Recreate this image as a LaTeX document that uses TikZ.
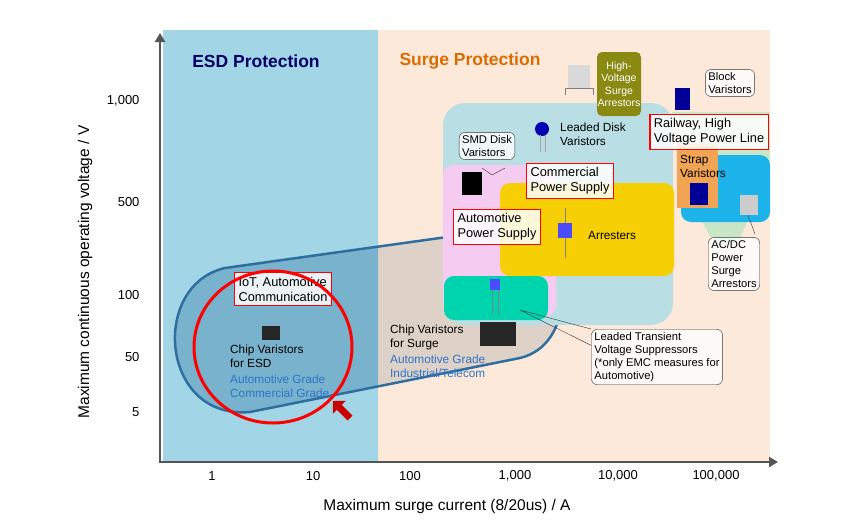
\documentclass[tikz,border=0pt]{standalone}
\usepackage{fontspec}
\setmainfont{Liberation Sans}
\usetikzlibrary{arrows.meta,shapes.geometric}
\definecolor{esd}{HTML}{A2D6E6}
\definecolor{surge}{HTML}{FDE9DA}
\definecolor{lb}{HTML}{B9DFE5}
\definecolor{pk}{HTML}{F6CBF2}
\definecolor{yl}{HTML}{F7CF05}
\definecolor{tl}{HTML}{00D4AE}
\definecolor{bl}{HTML}{1BB3E9}
\definecolor{og}{HTML}{F0A454}
\definecolor{ol}{HTML}{8A8A12}
\definecolor{lg}{HTML}{C9E6C6}
\definecolor{gb}{HTML}{2F6FA0}
\definecolor{axg}{HTML}{555555}
\definecolor{tb}{HTML}{2E74C8}
\begin{document}
\begin{tikzpicture}[x=1pt,y=-1pt,
  txt/.style={font=\fontsize{11.8}{14}\selectfont,align=left,inner sep=0pt,anchor=north west},
  blt/.style={txt,text=tb},
  tick/.style={font=\fontsize{13}{15}\selectfont},
  red box/.style={draw=red,line width=1.3pt,fill=white,fill opacity=0.85,text opacity=1,font=\fontsize{12.8}{15}\selectfont,align=left,inner sep=4pt},
  call/.style={draw=black!80,fill=white,fill opacity=0.8,text opacity=1,rounded corners=6pt,font=\fontsize{11.2}{13}\selectfont,align=left,inner sep=3pt},
  reg/.style={rounded corners=10pt}]
\useasboundingbox (0,0) rectangle (854,528);
\fill[white] (0,0) rectangle (854,528);
\fill[esd] (163,30) rectangle (378,462);
\fill[surge] (378,30) rectangle (770,462);
% capsule
\def\caps{(447,237) -- (225,268) .. controls (150,285) and (160,420) .. (250,412) -- (520,358) .. controls (575,345) and (575,255) .. (520,240) -- cycle}
\begin{scope}
\clip (163,30) rectangle (378,462);
\fill[gb,fill opacity=0.35] \caps;
\end{scope}
\begin{scope}
\clip (378,30) rectangle (770,462);
\fill[gray!70,fill opacity=0.35] \caps;
\end{scope}
\draw[gb,line width=2.5pt] \caps;
% regions
\fill[lg] (672,112) -- (770,112) -- (770,160) -- (738,245) -- (715,245) -- (690,200) -- cycle;
\fill[lb,reg,rounded corners=22pt] (443,103) rectangle (673,325);
\fill[pk,reg] (443,165) rectangle (556,316);
\fill[yl,reg] (500,183) rectangle (674,276);
\fill[tl,reg] (444,276) rectangle (548,320);
\fill[bl,reg] (681,155) rectangle (770,222);
\fill[og] (677,143) rectangle (718,208);
\fill[ol,rounded corners=5pt] (597,52) rectangle (641,116);
% axes
\draw[axg,line width=2.5pt,-{Triangle[length=9pt,width=10pt]}] (160,463) -- (160,33);
\draw[axg,line width=2.5pt,-{Triangle[length=9pt,width=10pt]}] (159,462) -- (778,462);
\foreach \y/\t in {101/{1,000},202/500,295/100,357/50,412/5} \node[tick,anchor=east] (yl\y) at (143,\y) {\t};
\foreach \x/\t in {212/1,313/10,410/100,515/{1,000},618/{10,000},716/{100,000}} \node[tick] (xl\x) at (\x,476) {\t};
\node[font=\fontsize{15.5}{17}\selectfont,rotate=90] (yt) at (85,272) {Maximum continuous operating  voltage / V};
\node[font=\fontsize{15.5}{17}\selectfont] (xt) at (447,506) {Maximum surge current (8/20us) / A};
\node[font=\bfseries\fontsize{17.5}{20}\selectfont,text=blue!40!black] (esdt) at (256,61) {ESD Protection};
\node[font=\bfseries\fontsize{17.5}{20}\selectfont,text=orange!85!black] (surt) at (470,61) {Surge Protection};
% components (simple icons)
\fill[gray!30] (568,65) rectangle (590,88);
\draw[gray] (565,88) -- (565,95) (593,88) -- (593,95) (565,88)--(593,88);
\fill[blue!70!black] (542,129) circle (7pt);
\draw[gray!70] (540,135) -- (540,152) (545,135) -- (545,152);
\fill[black] (462,172) rectangle (482,195);
\fill[blue!60!black] (675,88) rectangle (690,110);
\fill[blue!60!black] (690,183) rectangle (708,205);
\fill[gray!40] (740,195) rectangle (758,215);
\draw[gray] (565,208) -- (565,258);
\fill[blue!70] (558,223) rectangle (572,238);
\fill[blue!70] (490,279) rectangle (500,290);
\draw[gray] (492,290) -- (492,315) (498,290) -- (498,315);
\fill[black!85] (480,322) rectangle (516,346);
\fill[black!85] (262,326) rectangle (280,340);
% labels
\node[text=white,font=\fontsize{10.5}{12.5}\selectfont,align=center] (hv) at (619,84) {High-\\Voltage\\Surge\\Arrestors};
\node[txt] (ldv) at (560,123) {Leaded Disk\\Varistors};
\node[txt,anchor=west] (arr) at (588,235) {Arresters};
\node[txt] (stv) at (680,155) {Strap\\Varistors};
\node[call] (smd) at (487,146) {SMD Disk\\Varistors};
\draw[black!80] (482,168) -- (492,175) -- (505,168);
\node[call] (blk) at (730,83) {Block\\Varistors};
\node[call] (acdc) at (734,264) {AC/DC\\Power\\Surge\\Arrestors};
\draw[black!80] (755,234) -- (748,215);
\node[call] (ltv) at (657,357) {Leaded Transient\\Voltage Suppressors\\(*only EMC measures for\\Automotive)};
\draw[black!80] (ltv.north west) -- (520,310) -- (ltv.170);
\node[red box] (rail) at (709,132) {Railway, High\\Voltage Power Line};
\node[red box] (com) at (570,181) {Commercial\\Power Supply};
\node[red box] (aut) at (497,227) {Automotive\\Power Supply};
\node[red box] (iot) at (283,289) {IoT, Automotive\\Communication};
\node[txt] (cve) at (230,345) {Chip Varistors\\for ESD};
\node[blt] (cveg) at (230,375) {Automotive Grade\\Commercial Grade};
\node[txt] (cvs) at (390,325) {Chip Varistors\\for Surge};
\node[blt] (cvsg) at (390,355) {Automotive Grade\\Industrial/Telecom};
\draw[red,line width=3pt] (273,347) ellipse (79pt and 76pt);
\draw[red!80!black,line width=7pt,-{Triangle[length=9pt,width=18pt]}] (350,418) -- (333,401);
\end{tikzpicture}
\end{document}
